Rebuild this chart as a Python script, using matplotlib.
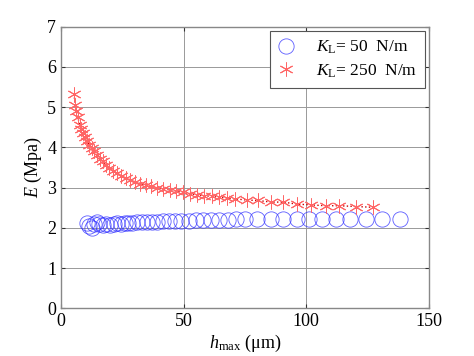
import matplotlib
matplotlib.use("Agg")
import matplotlib.pyplot as plt
from matplotlib.lines import Line2D

plt.rcParams['font.family'] = ['Liberation Serif', 'DejaVu Serif']
plt.rcParams['mathtext.fontset'] = 'custom'
plt.rcParams['mathtext.rm'] = 'Liberation Serif'
plt.rcParams['mathtext.it'] = 'Liberation Serif:italic'

# K_L = 50 N/m
h50 = [10.5, 11.5, 12.5, 13.5, 14.5, 15.5, 17, 18.5, 20, 21.5, 23, 24.5, 26, 27.5,
       29, 31, 33, 35, 37, 39, 41.5, 44, 46.5, 49, 52, 55, 58, 61, 64.5, 68, 71.5,
       75, 80, 85.5, 90.5, 96, 101, 106.5, 112, 118, 124.5, 131, 138]
E50 = [2.12, 2.05, 2.0, 2.1, 2.15, 2.1, 2.08, 2.1, 2.08, 2.1, 2.12, 2.1, 2.12, 2.12,
       2.13, 2.14, 2.14, 2.15, 2.15, 2.15, 2.16, 2.17, 2.17, 2.18, 2.18, 2.19, 2.19,
       2.2, 2.2, 2.2, 2.21, 2.21, 2.21, 2.22, 2.22, 2.22, 2.22, 2.22, 2.22, 2.22,
       2.22, 2.22, 2.22]

# K_L = 250 N/m
h250 = [5.3, 5.8, 6.3, 6.9, 7.6, 8.3, 9.0, 9.8, 10.6, 11.5, 12.5, 13.5, 14.6, 15.8,
        17.0, 18.3, 19.7, 21.2, 22.8, 24.5, 26.3, 28.2, 30.2, 32.3, 34.5, 36.8, 39.2,
        41.7, 44.3, 47.0, 49.8, 52.6, 55.5, 58.4, 61.4, 64.5, 67.7, 71.0, 75.8, 80.3,
        85.6, 90.5, 96.2, 101.9, 108, 113.3, 120.3, 127.2]
E250 = [5.33, 5.05, 4.9, 4.75, 4.55, 4.45, 4.35, 4.25, 4.15, 4.07, 3.98, 3.9, 3.8,
        3.72, 3.65, 3.56, 3.49, 3.42, 3.36, 3.3, 3.24, 3.19, 3.14, 3.1, 3.06, 3.03,
        3.0, 2.97, 2.94, 2.91, 2.88, 2.85, 2.82, 2.8, 2.78, 2.76, 2.74, 2.72, 2.69,
        2.68, 2.64, 2.64, 2.59, 2.57, 2.55, 2.55, 2.53, 2.51]

labels = [r'$K_{\mathrm{L}}$= 50  N/m', r'$K_{\mathrm{L}}$= 250  N/m']
xticks = [0, 50, 100, 150]
yticks = [0, 1, 2, 3, 4, 5, 6, 7]

fig = plt.figure(figsize=(4.74, 3.56), dpi=100)
ax = fig.add_axes([0.1287, 0.134, 0.905 - 0.1287, 0.925 - 0.134])

ax.plot(h50, E50, linestyle='none', marker='o', markersize=11, markerfacecolor='none',
        markeredgecolor='#3333ff', markeredgewidth=0.6, alpha=0.8)
ax.plot(h250, E250, linestyle=':', color='#cc0000', linewidth=1.0,
        marker=(6, 2, 0), markersize=10, markeredgecolor='#ff6666',
        markeredgewidth=0.7)

ax.set_xlim(0, 150)
ax.set_ylim(0, 7)
ax.set_xticks(xticks)
ax.set_yticks(yticks)
ax.grid(True, color='#999999', linewidth=0.7)
ax.tick_params(direction='in', top=True, right=True, labelsize=13, length=3,
               color='#333333')
for s in ax.spines.values():
    s.set_color('#888888')
    s.set_linewidth(1.0)

ax.set_xlabel(r'$h_{\mathrm{max}}$ (μm)', fontsize=13, labelpad=2)
ax.set_ylabel(r'$E$ (Mpa)', fontsize=13, labelpad=2)

handles = [
    Line2D([], [], linestyle='none', marker='o', markersize=11, markerfacecolor='none',
           markeredgecolor='#3333ff', markeredgewidth=0.6, alpha=0.8),
    Line2D([], [], linestyle='none', marker=(6, 2, 0), markersize=10,
           markeredgecolor='#ff6666', markeredgewidth=0.7),
]
leg = ax.legend(handles, labels, loc='upper right', fontsize=12.5, frameon=True,
                fancybox=False, edgecolor='#555555', borderaxespad=0.25,
                handlelength=1.0, handletextpad=1.2, borderpad=0.45,
                labelspacing=0.35, framealpha=1.0)
leg.get_frame().set_linewidth(0.8)

fig.savefig('out.png', dpi=100)
